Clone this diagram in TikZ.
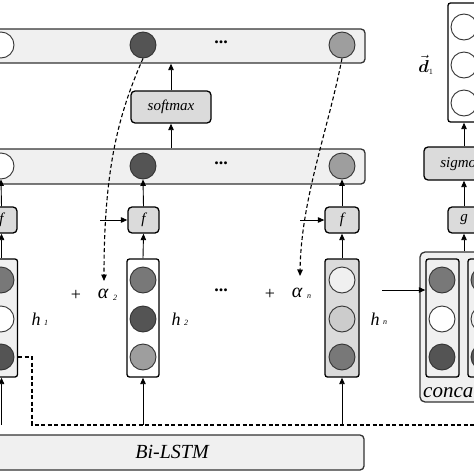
\documentclass[tikz,border=0pt]{standalone}
\usepackage{amsmath}
\usepackage{fontspec}
\setmainfont{Liberation Serif}
\usetikzlibrary{arrows.meta}
\definecolor{bandfill}{gray}{0.94}
\definecolor{opfill}{gray}{0.86}
\definecolor{cdark}{gray}{0.33}
\definecolor{cmid}{gray}{0.47}
\definecolor{clight}{gray}{0.62}
\definecolor{cvlight}{gray}{0.94}
\definecolor{cpale}{gray}{0.80}
\definecolor{edge}{gray}{0.2}
\begin{document}
\begin{tikzpicture}[x=1pt,y=-1pt,
  band/.style={draw=edge,line width=1.3pt,fill=bandfill,rounded corners=4pt,inner sep=0pt},
  opbox/.style={draw=black,line width=1.3pt,fill=opfill,rounded corners=4pt,inner sep=0pt,
     font=\fontsize{15}{15}\selectfont\itshape},
  vecbox/.style={draw=black,line width=1.3pt,rounded corners=2.5pt,inner sep=0pt,minimum width=32,minimum height=118},
  neuron/.style={circle,draw=edge,line width=0.9pt,minimum size=26,inner sep=0pt},
  arr/.style={-{Triangle[length=6.5pt,width=5.5pt]},line width=0.9pt},
  dashline/.style={dash pattern=on 4pt off 2.5pt,line width=1.1pt},
  lbl/.style={inner sep=0pt,font=\fontsize{18}{18}\selectfont\itshape},
  sub/.style={inner sep=0pt,font=\fontsize{8}{8}\selectfont\itshape},
  dots/.style={inner sep=0pt,font=\fontsize{18}{18}\selectfont\bfseries}
]
\useasboundingbox (0,0) rectangle (474,474);
\clip (0,0) rectangle (474,474);

% bands
\node[band,minimum width=395,minimum height=34] (top) at (167.5,46) {};
\node[band,minimum width=395,minimum height=35] (mid) at (167.5,166.5) {};
\node[band,minimum width=394,minimum height=35] (lstm) at (167,452.5) {};
\node[inner sep=0pt,font=\fontsize{20}{20}\selectfont\itshape] (lstmtxt) at (172,452) {Bi-LSTM};

% top band circles
\node[neuron,fill=white] (t1) at (1,45) {};
\node[neuron,fill=cdark] (t2) at (143,45) {};
\node[dots] (tdots) at (221,42) {...};
\node[neuron,fill=clight] (tn) at (342,45) {};

% mid band circles
\node[neuron,fill=white] (m1) at (1,166) {};
\node[neuron,fill=cdark] (m2) at (143,166) {};
\node[dots] (mdots) at (221,163) {...};
\node[neuron,fill=clight] (mn) at (342,166) {};

% softmax
\node[opbox,minimum width=80,minimum height=32] (soft) at (171,107) {softmax};
\draw[arr] (soft.north) -- (soft.north |- top.south);
\draw[arr] (soft.south |- mid.north) -- (soft.south);

% f boxes
\node[opbox,minimum width=31,minimum height=26] (f1) at (1.5,220) {f};
\node[opbox,minimum width=31,minimum height=26] (f2) at (143.5,220) {f};
\node[opbox,minimum width=34,minimum height=26] (fn) at (342,220) {f};
\draw[arr] (f1.north) -- (m1.south);
\draw[arr] (f2.north) -- (m2.south);
\draw[arr] (fn.north) -- (mn.south);
\coordinate (f2in) at (100,220);
\coordinate (fnin) at (300,220);
\draw[arr] (f2in) -- (f2.west);
\draw[arr] (fnin) -- (fn.west);

% h vectors
\node[vecbox,fill=cvlight] (h1) at (1.5,318) {};
\node[neuron,fill=cmid] (h1a) at (1,280) {};
\node[neuron,fill=white] (h1b) at (1,319) {};
\node[neuron,fill=cdark] (h1c) at (1,357) {};
\node[vecbox,fill=white] (h2) at (143,318) {};
\node[neuron,fill=cmid] (h2a) at (143,280) {};
\node[neuron,fill=cdark] (h2b) at (143,319) {};
\node[neuron,fill=clight] (h2c) at (143,357) {};
\node[vecbox,fill=opfill,minimum width=34] (hn) at (342,318) {};
\node[neuron,fill=cvlight] (hna) at (342,280) {};
\node[neuron,fill=cpale] (hnb) at (342,319) {};
\node[neuron,fill=cmid] (hnc) at (342,357) {};
\draw[arr] (h1.north) -- (f1.south);
\draw[arr] (h2.north) -- (f2.south);
\draw[arr] (hn.north) -- (fn.south);

% labels h
\node[lbl] (lh1) at (36,319) {h};
\node[sub] at (46,323) {1};
\node[lbl] (lh2) at (176,319) {h};
\node[sub] at (186,323) {2};
\node[lbl] (lhn) at (375,319) {h};
\node[sub] at (385,323) {n};

% plus / alpha
\node[inner sep=0pt,font=\fontsize{18}{18}\selectfont] (p2) at (76,295) {+};
\node[inner sep=0pt,font=\fontsize{20}{20}\selectfont\itshape] (a2) at (103,294) {α};
\node[sub] at (115,298) {2};
\node[dots] (hdots) at (221,290) {...};
\node[inner sep=0pt,font=\fontsize{18}{18}\selectfont] (pn) at (270,294) {+};
\node[inner sep=0pt,font=\fontsize{20}{20}\selectfont\itshape] (an) at (297,293) {α};
\node[sub] at (309,297) {n};

% dashed attention curves
\coordinate (a2tip) at (104,281);
\coordinate (antip) at (300,276);
\draw[dashline,-{Triangle[length=6.5pt,width=5.5pt]}] (t2.south) .. controls (118,115) and (104,170) .. (a2tip);
\draw[dashline,-{Triangle[length=6.5pt,width=5.5pt]}] (tn.south) .. controls (328,130) and (301,200) .. (antip);

% input arrows from Bi-LSTM
\coordinate (in1) at (1.5,425);
\coordinate (in2) at (143,425);
\coordinate (inn) at (342,425);
\draw[arr] (in1) -- (h1.south);
\draw[arr] (in2) -- (h2.south);
\draw[arr] (inn) -- (hn.south);

% dashed line from h1
\coordinate (dr) at (480,425);
\draw[dashline] (h1.east |- h1c) -- (32,357) -- (32,425) -- (dr);

% concat
\node[draw=edge,line width=1.3pt,fill=bandfill,rounded corners=5pt,minimum width=90,minimum height=150,inner sep=0pt] (cat) at (465,327) {};
\node[vecbox,fill=cvlight,minimum width=33] (c1) at (442.5,318) {};
\node[neuron,fill=cmid] (c1a) at (442,280) {};
\node[neuron,fill=white] (c1b) at (442,319) {};
\node[neuron,fill=cdark] (c1c) at (442,357) {};
\node[vecbox,fill=cvlight,minimum width=33] (c2) at (484.5,318) {};
\node[neuron,fill=cmid] (c2a) at (484,280) {};
\node[neuron,fill=cvlight] (c2b) at (484,319) {};
\node[neuron,fill=cdark] (c2c) at (484,357) {};
\node[anchor=west,inner sep=0pt,font=\fontsize{21}{21}\selectfont\itshape] (cattxt) at (423,392) {concat};
\coordinate (hnout) at (382,290);
\draw[arr] (hnout) -- (hnout -| c1.west);

% g, sigmoid, d
\node[opbox,minimum width=32,minimum height=26] (g) at (464,220) {g};
\node[opbox,minimum width=80,minimum height=33] (sig) at (464,163.5) {sigmoid};
\node[draw=black,line width=1.3pt,fill=white,rounded corners=2.5pt,minimum width=32,minimum height=119,inner sep=0pt] (d) at (464,62.5) {};
\node[neuron,fill=white] (d1) at (464,27) {};
\node[neuron,fill=white] (d2) at (464,65) {};
\node[neuron,fill=white] (d3) at (464,103) {};
\draw[arr] (cat.north -| g) -- (g.south);
\draw[arr] (g.north) -- (sig.south);
\draw[arr] (sig.north) -- (d.south);
\node[inner sep=0pt,font=\fontsize{17}{17}\selectfont] (dl) at (426,65) {$\vec{\boldsymbol{d}}_{\scriptscriptstyle 1}$};
\end{tikzpicture}
\end{document}
